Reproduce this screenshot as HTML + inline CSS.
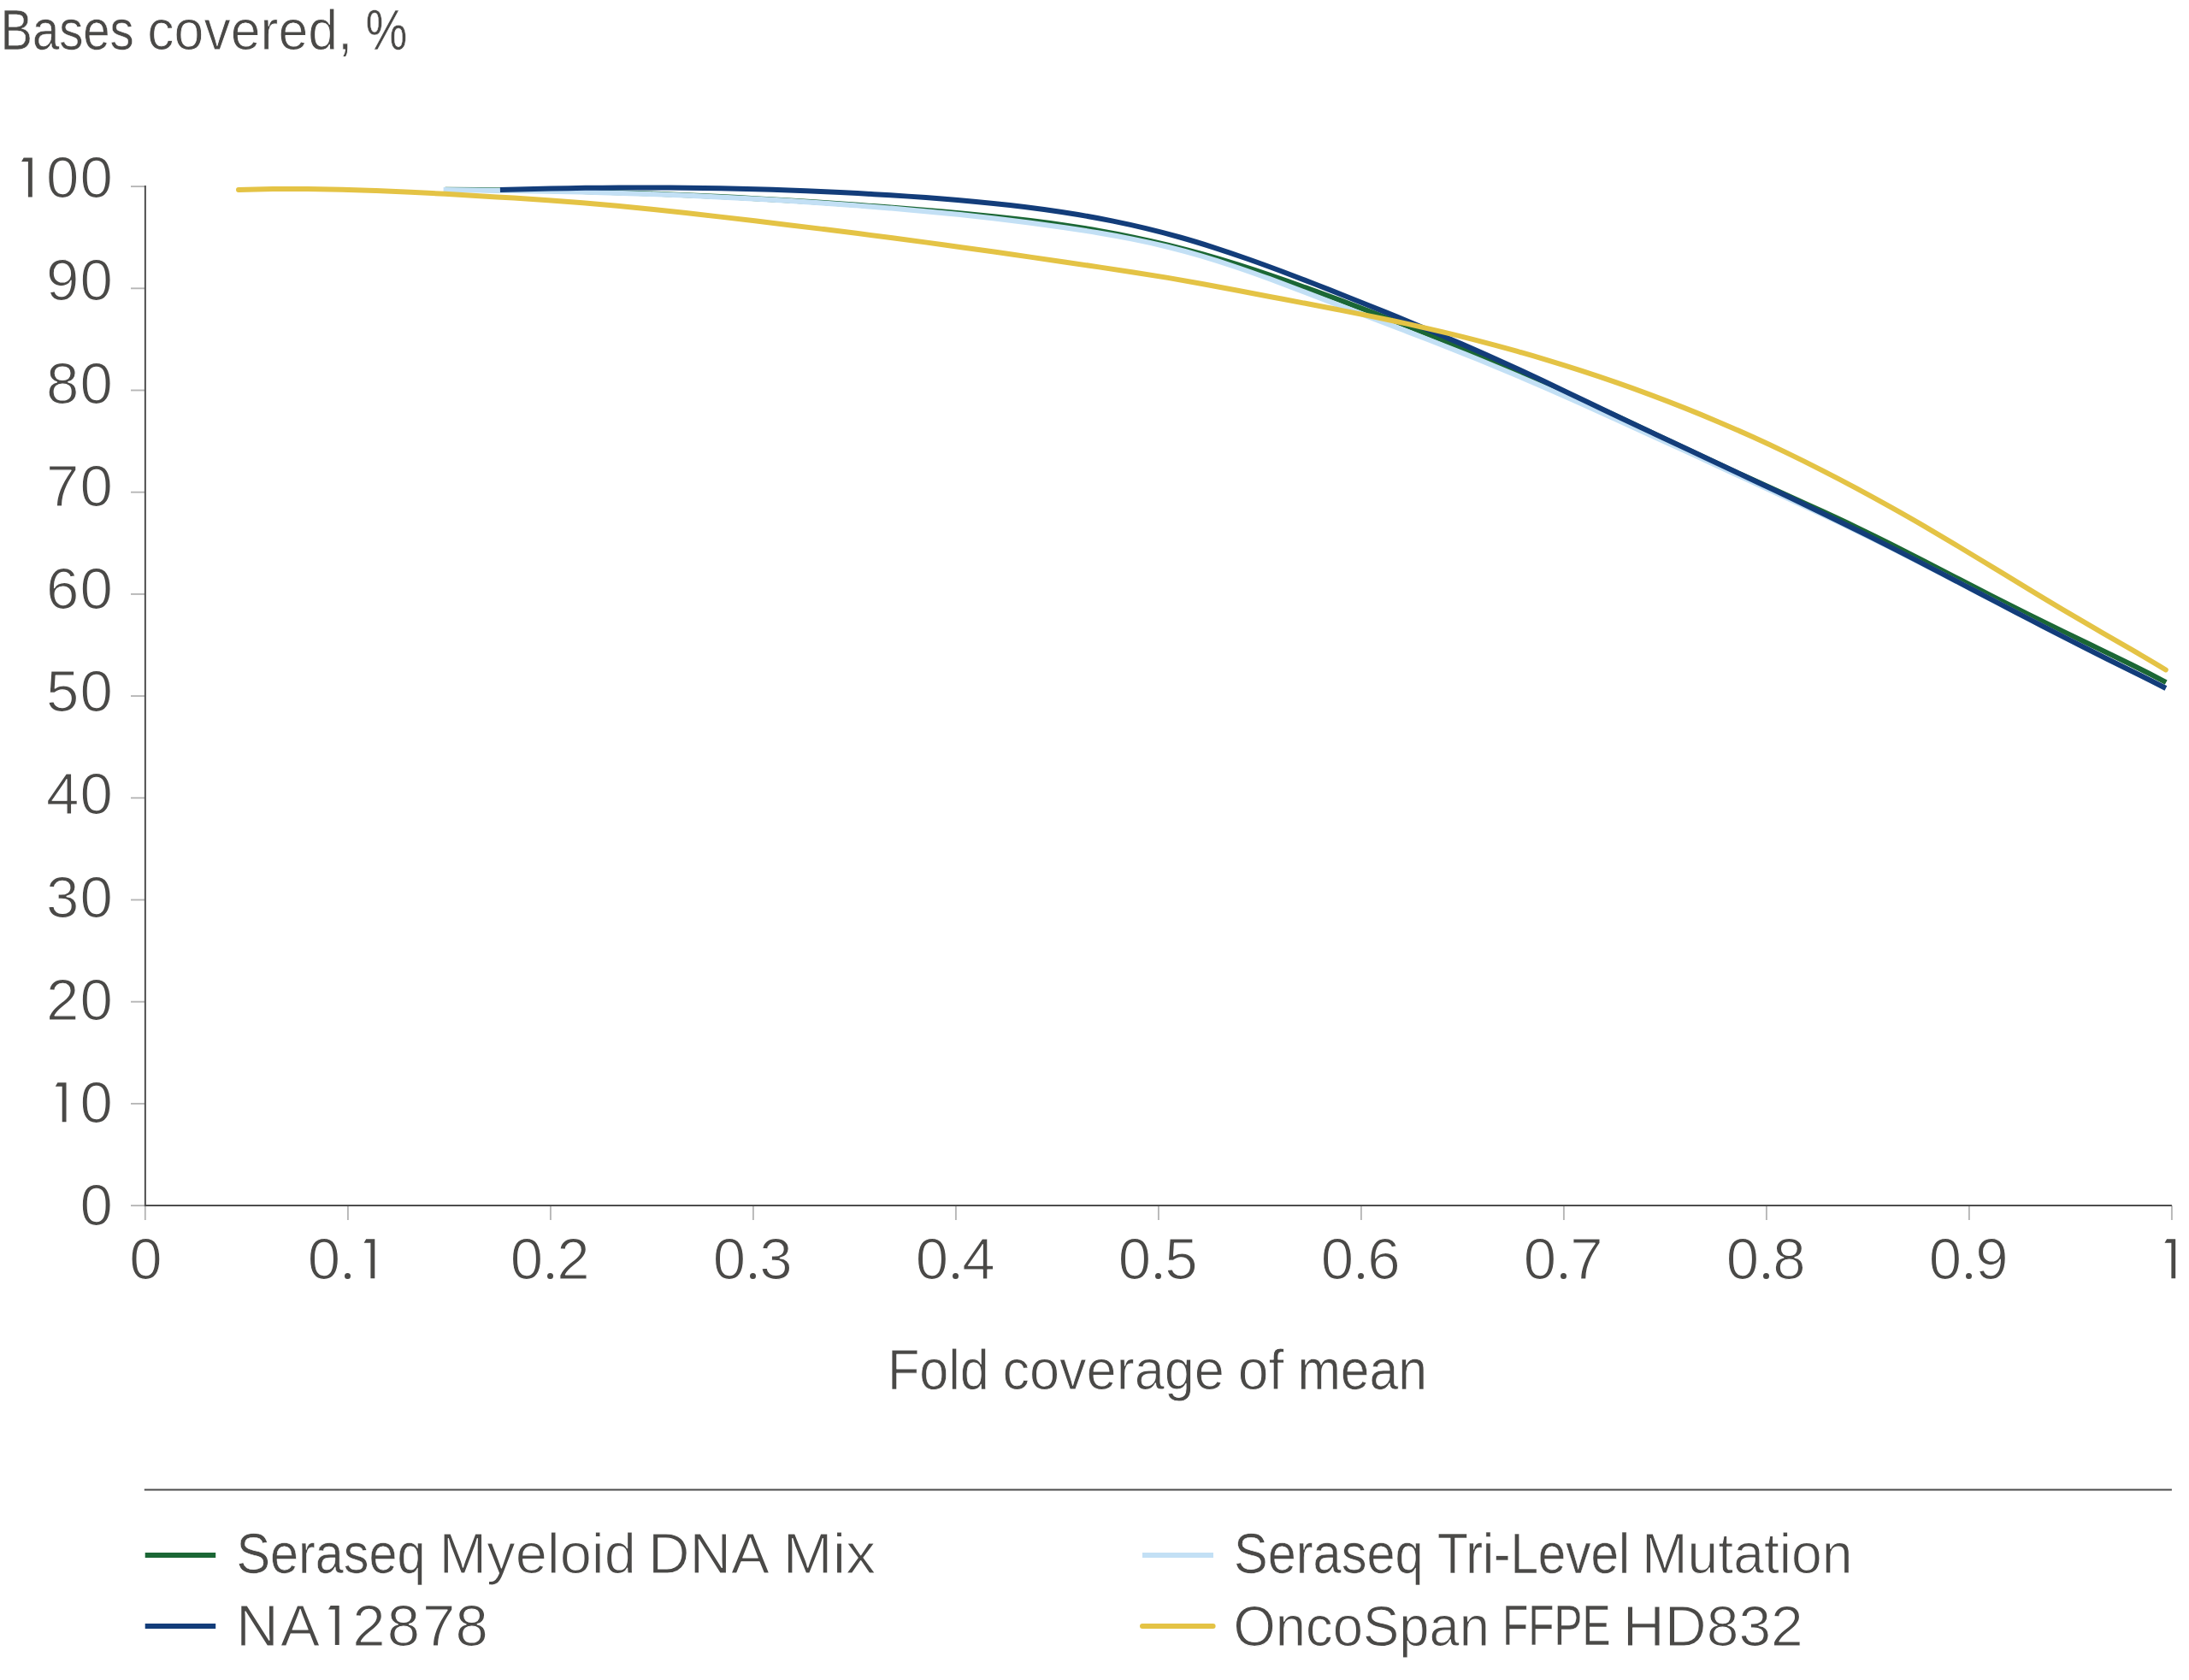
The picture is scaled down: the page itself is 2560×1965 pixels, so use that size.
<!DOCTYPE html>
<html lang="en"><head><meta charset="utf-8"><title>Coverage uniformity</title>
<style>
html,body{margin:0;padding:0;background:#fff;}
body{width:2560px;height:1965px;overflow:hidden;}
svg{display:block;}
text{font-family:"Liberation Sans",sans-serif;fill:#4a4947;}
.t{stroke:#fff;stroke-width:1.2px;paint-order:fill stroke;stroke-linejoin:round;}
.w{paint-order:fill stroke;stroke-linejoin:round;}
.g1{fill:#4a4947;}
</style></head><body>
<svg width="2560" height="1965" viewBox="0 0 2560 1965">
<rect width="2560" height="1965" fill="#ffffff"/>
<text class="w" stroke="#fff" stroke-width="0.50" x="0.4" y="58.1" font-size="67" textLength="156.2" lengthAdjust="spacingAndGlyphs">Bases</text>
<text class="w" stroke="#fff" stroke-width="0.90" x="172.3" y="58.3" font-size="67" textLength="240.2" lengthAdjust="spacingAndGlyphs">covered,</text>
<text class="w" stroke="#fff" stroke-width="0.50" x="427.6" y="58.1" font-size="67" textLength="48.9" lengthAdjust="spacingAndGlyphs">%</text>
<g stroke="#b6b6b6" stroke-width="1.9" fill="none">
<line x1="153" y1="1410.1" x2="169.8" y2="1410.1"/>
<line x1="153" y1="1290.9" x2="169.8" y2="1290.9"/>
<line x1="153" y1="1171.7" x2="169.8" y2="1171.7"/>
<line x1="153" y1="1052.5" x2="169.8" y2="1052.5"/>
<line x1="153" y1="933.3" x2="169.8" y2="933.3"/>
<line x1="153" y1="814.1" x2="169.8" y2="814.1"/>
<line x1="153" y1="694.9" x2="169.8" y2="694.9"/>
<line x1="153" y1="575.7" x2="169.8" y2="575.7"/>
<line x1="153" y1="456.5" x2="169.8" y2="456.5"/>
<line x1="153" y1="337.3" x2="169.8" y2="337.3"/>
<line x1="153" y1="218.1" x2="169.8" y2="218.1"/>
<line x1="169.8" y1="1410.1" x2="169.8" y2="1427"/>
<line x1="406.9" y1="1410.1" x2="406.9" y2="1427"/>
<line x1="643.9" y1="1410.1" x2="643.9" y2="1427"/>
<line x1="880.9" y1="1410.1" x2="880.9" y2="1427"/>
<line x1="1117.9" y1="1410.1" x2="1117.9" y2="1427"/>
<line x1="1354.9" y1="1410.1" x2="1354.9" y2="1427"/>
<line x1="1591.9" y1="1410.1" x2="1591.9" y2="1427"/>
<line x1="1828.9" y1="1410.1" x2="1828.9" y2="1427"/>
<line x1="2065.9" y1="1410.1" x2="2065.9" y2="1427"/>
<line x1="2302.9" y1="1410.1" x2="2302.9" y2="1427"/>
<line x1="2539.9" y1="1410.1" x2="2539.9" y2="1427"/>
</g>
<g stroke="#4d4d4d" stroke-width="2" fill="none">
<path d="M169.85 217.1 V1410.1 H2539.9"/>
<line x1="168.8" y1="1742.4" x2="2539.9" y2="1742.4"/>
</g>
<text class="t" text-anchor="middle" font-size="69" y="1433.1"><tspan x="112.8">0</tspan></text>
<path class="g1" d="M64.8 1270.8 L67.4 1266.2 L77.5 1266.2 L77.5 1312.3 L72.7 1312.3 L72.7 1270.8Z"/><text class="t" text-anchor="middle" font-size="69" y="1312.9"><tspan x="112.8">0</tspan></text>
<text class="t" text-anchor="middle" font-size="69" y="1192.7"><tspan x="112.8">0</tspan><tspan x="73.1">2</tspan></text>
<text class="t" text-anchor="middle" font-size="69" y="1072.5"><tspan x="112.8">0</tspan><tspan x="73.1">3</tspan></text>
<text class="t" text-anchor="middle" font-size="69" y="952.3"><tspan x="112.8">0</tspan><tspan x="73.1">4</tspan></text>
<text class="t" text-anchor="middle" font-size="69" y="832.1"><tspan x="112.8">0</tspan><tspan x="73.1">5</tspan></text>
<text class="t" text-anchor="middle" font-size="69" y="711.9"><tspan x="112.8">0</tspan><tspan x="73.1">6</tspan></text>
<text class="t" text-anchor="middle" font-size="69" y="591.7"><tspan x="112.8">0</tspan><tspan x="73.1">7</tspan></text>
<text class="t" text-anchor="middle" font-size="69" y="471.5"><tspan x="112.8">0</tspan><tspan x="73.1">8</tspan></text>
<text class="t" text-anchor="middle" font-size="69" y="351.3"><tspan x="112.8">0</tspan><tspan x="73.1">9</tspan></text>
<path class="g1" d="M25.1 189.0 L27.7 184.4 L37.8 184.4 L37.8 230.5 L32.9 230.5 L32.9 189.0Z"/><text class="t" text-anchor="middle" font-size="69" y="231.1"><tspan x="112.8">0</tspan><tspan x="73.1">0</tspan></text>
<text class="t" text-anchor="middle" font-size="69" y="1495.9"><tspan x="170.5">0</tspan></text>
<circle class="g1" cx="406.5" cy="1492.4" r="3.5"/><path class="g1" d="M425.6 1453.8 L428.2 1449.2 L438.3 1449.2 L438.3 1495.3 L433.4 1495.3 L433.4 1453.8Z"/><text class="t" text-anchor="middle" font-size="69" y="1495.9"><tspan x="379.0">0</tspan></text>
<circle class="g1" cx="643.5" cy="1492.4" r="3.5"/><text class="t" text-anchor="middle" font-size="69" y="1495.9"><tspan x="616.0">0</tspan><tspan x="670.5">2</tspan></text>
<circle class="g1" cx="880.5" cy="1492.4" r="3.5"/><text class="t" text-anchor="middle" font-size="69" y="1495.9"><tspan x="853.0">0</tspan><tspan x="907.5">3</tspan></text>
<circle class="g1" cx="1117.5" cy="1492.4" r="3.5"/><text class="t" text-anchor="middle" font-size="69" y="1495.9"><tspan x="1090.0">0</tspan><tspan x="1144.5">4</tspan></text>
<circle class="g1" cx="1354.5" cy="1492.4" r="3.5"/><text class="t" text-anchor="middle" font-size="69" y="1495.9"><tspan x="1327.0">0</tspan><tspan x="1381.5">5</tspan></text>
<circle class="g1" cx="1591.5" cy="1492.4" r="3.5"/><text class="t" text-anchor="middle" font-size="69" y="1495.9"><tspan x="1564.0">0</tspan><tspan x="1618.5">6</tspan></text>
<circle class="g1" cx="1828.5" cy="1492.4" r="3.5"/><text class="t" text-anchor="middle" font-size="69" y="1495.9"><tspan x="1801.0">0</tspan><tspan x="1855.5">7</tspan></text>
<circle class="g1" cx="2065.5" cy="1492.4" r="3.5"/><text class="t" text-anchor="middle" font-size="69" y="1495.9"><tspan x="2038.0">0</tspan><tspan x="2092.5">8</tspan></text>
<circle class="g1" cx="2302.5" cy="1492.4" r="3.5"/><text class="t" text-anchor="middle" font-size="69" y="1495.9"><tspan x="2275.0">0</tspan><tspan x="2329.5">9</tspan></text>
<path class="g1" d="M2531.5 1453.8 L2534.1 1449.2 L2544.2 1449.2 L2544.2 1495.3 L2539.4 1495.3 L2539.4 1453.8Z"/>
<text class="w" stroke="#fff" stroke-width="0.75" x="1037.9" y="1624.7" font-size="67" textLength="119.0" lengthAdjust="spacingAndGlyphs">Fold</text>
<text class="w" stroke="#fff" stroke-width="0.94" x="1172.5" y="1624.8" font-size="67" textLength="259.4" lengthAdjust="spacingAndGlyphs">coverage</text>
<text class="w" stroke="#fff" stroke-width="0.95" x="1447.7" y="1624.8" font-size="67" textLength="53.6" lengthAdjust="spacingAndGlyphs">of</text>
<text class="w" stroke="#fff" stroke-width="0.71" x="1517.4" y="1624.7" font-size="67" textLength="151.6" lengthAdjust="spacingAndGlyphs">mean</text>
<g fill="none" stroke-width="6" stroke-linejoin="round">
<path stroke="#1b6735" d="M520.6 221.82C534.0 221.83 547.4 221.88 560.9 221.97C574.3 222.07 587.7 222.20 601.1 222.38C614.5 222.56 627.9 222.79 641.4 223.05C654.8 223.31 668.2 223.62 681.6 223.97C695.0 224.31 708.4 224.70 721.9 225.13C735.3 225.56 748.7 226.03 762.1 226.54C775.5 227.05 788.9 227.60 802.4 228.18C815.8 228.77 829.2 229.40 842.6 230.06C856.0 230.73 869.5 231.43 882.9 232.17C896.3 232.91 909.7 233.69 923.1 234.51C936.5 235.32 950.0 236.18 963.4 237.06C976.8 237.95 990.2 238.88 1003.6 239.84C1017.0 240.80 1030.5 241.80 1043.9 242.83C1057.3 243.86 1070.7 244.92 1084.1 246.03C1097.5 247.13 1111.0 248.28 1124.4 249.51C1137.8 250.73 1151.2 252.04 1164.6 253.45C1178.0 254.86 1191.5 256.38 1204.9 258.04C1218.3 259.70 1231.7 261.49 1245.1 263.46C1258.6 265.43 1272.0 267.57 1285.4 269.91C1298.8 272.26 1312.2 274.80 1325.6 277.58C1339.1 280.35 1352.5 283.36 1365.9 286.64C1379.3 289.91 1392.7 293.46 1406.1 297.24C1419.6 301.02 1433.0 305.03 1446.4 309.23C1459.8 313.43 1473.2 317.83 1486.6 322.38C1500.1 326.93 1513.5 331.63 1526.9 336.44C1540.3 341.26 1553.7 346.18 1567.2 351.18C1580.6 356.18 1594.0 361.25 1607.4 366.40C1620.8 371.54 1634.2 376.76 1647.7 382.05C1661.1 387.34 1674.5 392.71 1687.9 398.15C1701.3 403.60 1714.7 409.12 1728.2 414.73C1741.6 420.33 1755.0 426.02 1768.4 431.79C1781.8 437.56 1795.2 443.41 1808.7 449.36C1822.1 455.30 1835.5 461.32 1848.9 467.43C1862.3 473.55 1875.8 479.75 1889.2 486.03C1902.6 492.30 1916.0 498.64 1929.4 504.99C1942.8 511.34 1956.3 517.70 1969.7 524.01C1983.1 530.33 1996.5 536.60 2009.9 542.82C2023.3 549.05 2036.8 555.22 2050.2 561.35C2063.6 567.48 2077.0 573.55 2090.4 579.60C2103.8 585.65 2117.3 591.70 2130.7 597.84C2144.1 603.98 2157.5 610.21 2170.9 616.64C2184.3 623.06 2197.8 629.67 2211.2 636.40C2224.6 643.13 2238.0 649.98 2251.4 656.89C2264.9 663.79 2278.3 670.76 2291.7 677.71C2305.1 684.66 2318.5 691.61 2331.9 698.47C2345.4 705.34 2358.8 712.14 2372.2 718.80C2385.6 725.45 2399.0 731.98 2412.4 738.46C2425.9 744.94 2439.3 751.37 2452.7 757.85C2466.1 764.33 2479.5 770.84 2492.9 777.50C2506.4 784.16 2519.8 790.96 2533.2 798.05"/>
<path stroke="#c3e0f5" d="M518.6 222.09C532.0 222.19 545.5 222.31 558.9 222.45C572.3 222.60 585.7 222.77 599.2 222.98C612.6 223.18 626.0 223.42 639.5 223.69C652.9 223.96 666.3 224.26 679.7 224.59C693.2 224.93 706.6 225.30 720.0 225.70C733.5 226.11 746.9 226.55 760.3 227.04C773.7 227.52 787.2 228.04 800.6 228.60C814.0 229.16 827.5 229.77 840.9 230.41C854.3 231.06 867.7 231.75 881.2 232.48C894.6 233.22 908.0 234.00 921.5 234.83C934.9 235.66 948.3 236.53 961.7 237.46C975.2 238.38 988.6 239.35 1002.0 240.38C1015.5 241.41 1028.9 242.48 1042.3 243.61C1055.7 244.75 1069.2 245.93 1082.6 247.17C1096.0 248.42 1109.5 249.72 1122.9 251.10C1136.3 252.48 1149.7 253.93 1163.2 255.47C1176.6 257.02 1190.0 258.66 1203.5 260.40C1216.9 262.14 1230.3 263.99 1243.7 265.96C1257.2 267.94 1270.6 270.02 1284.0 272.27C1297.5 274.51 1310.9 276.92 1324.3 279.59C1337.7 282.26 1351.2 285.19 1364.6 288.49C1378.0 291.78 1391.5 295.45 1404.9 299.43C1418.3 303.42 1431.7 307.71 1445.2 312.23C1458.6 316.76 1472.0 321.52 1485.5 326.44C1498.9 331.36 1512.3 336.44 1525.8 341.58C1539.2 346.72 1552.6 351.92 1566.0 357.11C1579.5 362.30 1592.9 367.45 1606.3 372.60C1619.8 377.75 1633.2 382.90 1646.6 388.08C1660.0 393.26 1673.5 398.47 1686.9 403.75C1700.3 409.02 1713.8 414.36 1727.2 419.79C1740.6 425.22 1754.0 430.75 1767.5 436.41C1780.9 442.06 1794.3 447.85 1807.8 453.73C1821.2 459.61 1834.6 465.58 1848.0 471.60C1861.5 477.62 1874.9 483.70 1888.3 489.79C1901.8 495.88 1915.2 502.01 1928.6 508.15C1942.0 514.29 1955.5 520.45 1968.9 526.63C1982.3 532.81 1995.8 539.00 2009.2 545.20C2022.6 551.40 2036.0 557.61 2049.5 563.83C2062.9 570.04 2076.3 576.25 2089.8 582.47C2103.2 588.69 2116.6 594.94 2130.0 601.26C2143.5 607.58 2156.9 613.97 2170.3 620.49C2183.8 627.01 2197.2 633.65 2210.6 640.38C2224.0 647.11 2237.5 653.94 2250.9 660.82C2264.3 667.71 2277.8 674.65 2291.2 681.62C2304.6 688.60 2318.0 695.60 2331.5 702.60C2344.9 709.60 2358.3 716.60 2371.8 723.57C2385.2 730.53 2398.6 737.46 2412.0 744.33C2425.5 751.20 2438.9 758.00 2452.3 764.71C2465.8 771.42 2479.2 777.98 2492.6 784.59C2506.0 791.20 2519.5 797.90 2532.9 805.07"/>
<path stroke="#133d7a" d="M584.9 222.01C598.2 221.60 611.4 221.24 624.7 220.93C637.9 220.61 651.2 220.35 664.4 220.13C677.7 219.92 690.9 219.75 704.2 219.63C717.4 219.52 730.7 219.45 743.9 219.44C757.2 219.42 770.4 219.46 783.7 219.55C796.9 219.64 810.2 219.78 823.4 219.98C836.7 220.18 849.9 220.43 863.2 220.74C876.4 221.04 889.7 221.40 902.9 221.82C916.2 222.24 929.4 222.71 942.7 223.25C955.9 223.78 969.2 224.37 982.5 225.02C995.7 225.67 1009.0 226.38 1022.2 227.14C1035.5 227.91 1048.7 228.74 1062.0 229.63C1075.2 230.52 1088.5 231.47 1101.7 232.50C1115.0 233.53 1128.2 234.65 1141.5 235.89C1154.7 237.13 1168.0 238.48 1181.2 239.98C1194.5 241.48 1207.7 243.13 1221.0 244.96C1234.2 246.79 1247.5 248.80 1260.7 251.02C1274.0 253.24 1287.2 255.66 1300.5 258.33C1313.7 261.00 1327.0 263.91 1340.2 267.10C1353.5 270.28 1366.8 273.74 1380.0 277.49C1393.3 281.24 1406.5 285.28 1419.8 289.54C1433.0 293.81 1446.3 298.30 1459.5 302.98C1472.8 307.65 1486.0 312.50 1499.3 317.48C1512.5 322.45 1525.8 327.56 1539.0 332.73C1552.3 337.91 1565.5 343.16 1578.8 348.44C1592.0 353.71 1605.3 359.03 1618.5 364.40C1631.8 369.77 1645.0 375.20 1658.3 380.70C1671.5 386.21 1684.8 391.79 1698.0 397.47C1711.3 403.14 1724.5 408.91 1737.8 414.80C1751.0 420.69 1764.3 426.69 1777.6 432.83C1790.8 438.96 1804.1 445.21 1817.3 451.51C1830.6 457.81 1843.8 464.16 1857.1 470.50C1870.3 476.84 1883.6 483.15 1896.8 489.42C1910.1 495.69 1923.3 501.94 1936.6 508.17C1949.8 514.40 1963.1 520.61 1976.3 526.83C1989.6 533.04 2002.8 539.25 2016.1 545.48C2029.3 551.70 2042.6 557.93 2055.8 564.19C2069.1 570.45 2082.3 576.74 2095.6 583.07C2108.8 589.39 2122.1 595.77 2135.3 602.22C2148.6 608.66 2161.9 615.18 2175.1 621.80C2188.4 628.41 2201.6 635.11 2214.9 641.89C2228.1 648.66 2241.4 655.49 2254.6 662.37C2267.9 669.24 2281.1 676.16 2294.4 683.08C2307.6 690.01 2320.9 696.96 2334.1 703.89C2347.4 710.82 2360.6 717.74 2373.9 724.62C2387.1 731.50 2400.4 738.35 2413.6 745.13C2426.9 751.92 2440.1 758.64 2453.4 765.27C2466.6 771.91 2479.9 778.41 2493.1 784.94C2506.4 791.48 2519.6 798.07 2532.9 805.01"/>
<path stroke="#e4c345" stroke-linecap="round" d="M279.0 222.01C292.4 221.52 305.8 221.20 319.2 221.03C332.7 220.86 346.1 220.84 359.5 220.95C372.9 221.06 386.3 221.30 399.7 221.64C413.2 221.98 426.6 222.43 440.0 222.95C453.4 223.48 466.8 224.08 480.2 224.74C493.6 225.40 507.1 226.12 520.5 226.87C533.9 227.62 547.3 228.40 560.7 229.19C574.1 229.98 587.6 230.76 601.0 231.58C614.4 232.40 627.8 233.25 641.2 234.17C654.6 235.09 668.0 236.08 681.5 237.18C694.9 238.27 708.3 239.45 721.7 240.71C735.1 241.97 748.5 243.31 762.0 244.70C775.4 246.09 788.8 247.54 802.2 249.04C815.6 250.53 829.0 252.06 842.5 253.62C855.9 255.17 869.3 256.75 882.7 258.34C896.1 259.93 909.5 261.53 922.9 263.15C936.4 264.77 949.8 266.40 963.2 268.06C976.6 269.71 990.0 271.39 1003.4 273.09C1016.9 274.80 1030.3 276.52 1043.7 278.28C1057.1 280.03 1070.5 281.82 1083.9 283.63C1097.3 285.45 1110.8 287.29 1124.2 289.16C1137.6 291.03 1151.0 292.92 1164.4 294.83C1177.8 296.74 1191.3 298.67 1204.7 300.61C1218.1 302.55 1231.5 304.51 1244.9 306.47C1258.3 308.43 1271.7 310.40 1285.2 312.38C1298.6 314.36 1312.0 316.36 1325.4 318.43C1338.8 320.50 1352.2 322.64 1365.7 324.90C1379.1 327.16 1392.5 329.55 1405.9 332.01C1419.3 334.47 1432.7 337.01 1446.1 339.55C1459.6 342.10 1473.0 344.66 1486.4 347.19C1499.8 349.73 1513.2 352.26 1526.6 354.81C1540.1 357.37 1553.5 359.94 1566.9 362.57C1580.3 365.20 1593.7 367.88 1607.1 370.64C1620.5 373.39 1634.0 376.24 1647.4 379.19C1660.8 382.14 1674.2 385.20 1687.6 388.39C1701.0 391.59 1714.5 394.91 1727.9 398.37C1741.3 401.83 1754.7 405.43 1768.1 409.17C1781.5 412.91 1794.9 416.79 1808.4 420.82C1821.8 424.85 1835.2 429.03 1848.6 433.37C1862.0 437.71 1875.4 442.21 1888.9 446.87C1902.3 451.53 1915.7 456.35 1929.1 461.35C1942.5 466.34 1955.9 471.51 1969.4 476.85C1982.8 482.19 1996.2 487.71 2009.6 493.42C2023.0 499.13 2036.4 505.02 2049.8 511.10C2063.3 517.18 2076.7 523.46 2090.1 529.92C2103.5 536.39 2116.9 543.05 2130.3 549.88C2143.8 556.72 2157.2 563.73 2170.6 570.91C2184.0 578.09 2197.4 585.44 2210.8 592.94C2224.2 600.44 2237.7 608.10 2251.1 615.90C2264.5 623.70 2277.9 631.66 2291.3 639.72C2304.7 647.78 2318.2 655.94 2331.6 664.12C2345.0 672.30 2358.4 680.50 2371.8 688.65C2385.2 696.80 2398.6 704.90 2412.1 712.86C2425.5 720.83 2438.9 728.64 2452.3 736.41C2465.7 744.17 2479.1 751.89 2492.6 759.69C2506.0 767.49 2519.4 775.37 2532.8 783.46"/>
</g>
<g fill="none" stroke-width="6">
<line x1="169.7" y1="1819" x2="252.2" y2="1819" stroke="#1b6735"/>
<line x1="169.7" y1="1902" x2="252.2" y2="1902" stroke="#133d7a"/>
<line x1="1336" y1="1819" x2="1419" y2="1819" stroke="#c3e0f5"/>
<line x1="1336" y1="1902" x2="1418.6" y2="1902" stroke="#e4c345" stroke-linecap="round"/>
</g>
<text class="w" stroke="#fff" stroke-width="0.61" x="276.4" y="1839.8" font-size="67" textLength="221.1" lengthAdjust="spacingAndGlyphs">Seraseq</text>
<text class="w" stroke="#fff" stroke-width="1.20" x="513.6" y="1840.1" font-size="67" textLength="230.3" lengthAdjust="spacingAndGlyphs">Myeloid</text>
<text class="w" stroke="#fff" stroke-width="1.20" x="757.9" y="1840.1" font-size="67" textLength="141.9" lengthAdjust="spacingAndGlyphs">DNA</text>
<text class="w" stroke="#fff" stroke-width="1.20" x="915.6" y="1840.1" font-size="67" textLength="108.6" lengthAdjust="spacingAndGlyphs">Mix</text>
<text class="w" stroke="#fff" stroke-width="0.62" x="1443.0" y="1839.8" font-size="67" textLength="221.6" lengthAdjust="spacingAndGlyphs">Seraseq</text>
<text class="w" stroke="#fff" stroke-width="0.50" x="1681.0" y="1839.8" font-size="67" textLength="225.0" lengthAdjust="spacingAndGlyphs">Tri-Level</text>
<text class="w" stroke="#fff" stroke-width="1.04" x="1920.1" y="1840.0" font-size="67" textLength="246.4" lengthAdjust="spacingAndGlyphs">Mutation</text>
<text class="w" stroke="#fff" stroke-width="0.96" x="1442.5" y="1924.5" font-size="67" textLength="299.4" lengthAdjust="spacingAndGlyphs">OncoSpan</text>
<text class="w" stroke="#fff" stroke-width="0.50" x="1757.1" y="1924.2" font-size="67" textLength="126.4" lengthAdjust="spacingAndGlyphs">FFPE</text>
<text class="w" stroke="#fff" stroke-width="1.20" x="1897.8" y="1924.6" font-size="67" textLength="211.0" lengthAdjust="spacingAndGlyphs">HD832</text>
<path class="g1" d="M384.0 1882.5 L386.6 1877.9 L396.7 1877.9 L396.7 1924.0 L391.8 1924.0 L391.8 1882.5Z"/><text class="t" text-anchor="middle" font-size="69" y="1924.6"><tspan x="301.0">N</tspan><tspan x="351.0">A</tspan><tspan x="431.5">2</tspan><tspan x="472.0">8</tspan><tspan x="513.2">7</tspan><tspan x="551.6">8</tspan></text>
</svg>
</body></html>
